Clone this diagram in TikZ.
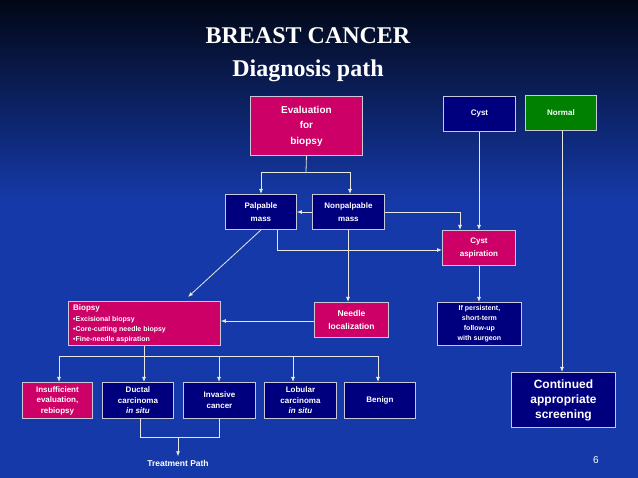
\documentclass[tikz,border=0pt]{standalone}
\usepackage{fontspec}
\setmainfont{Liberation Sans}
\newfontfamily\titlefont{Liberation Serif}
\usetikzlibrary{arrows.meta}
\definecolor{bgtop}{HTML}{020716}
\definecolor{bgbot}{HTML}{1539A8}
\definecolor{pinkc}{HTML}{CC0066}
\definecolor{navyc}{HTML}{00007F}
\definecolor{greenc}{HTML}{008000}
\definecolor{edgec}{HTML}{C8C8D8}
\definecolor{linec}{HTML}{E8E8E0}
\begin{document}
\begin{tikzpicture}[x=1pt,y=-1pt,
  box/.style={draw=edgec,line width=0.9pt,text=white,font=\bfseries\fontsize{8}{13}\selectfont,align=center,inner sep=1pt},
  pk/.style={box,fill=pinkc},
  nv/.style={box,fill=navyc},
  gr/.style={box,fill=greenc},
  ln/.style={draw=linec,line width=0.8pt},
  ar/.style={ln,-{Latex[length=5pt,width=4pt]}}]
\useasboundingbox (0,0) rectangle (638,478);
\fill[bgbot] (0,0) rectangle (638,478);
\shade[top color=bgtop,bottom color=bgbot] (0,0) rectangle (638,200);
\node[text=white,font=\titlefont\bfseries\fontsize{24}{28}\selectfont] (t1) at (308,36) {BREAST CANCER};
\node[text=white,font=\titlefont\bfseries\fontsize{24}{28}\selectfont] (t2) at (308,71) {Diagnosis path};
\node[pk,minimum width=112pt,minimum height=59pt,anchor=north west,font=\bfseries\fontsize{10}{15.5}\selectfont] (ev) at (250,96) {Evaluation\\for\\biopsy};
\node[nv,minimum width=72pt,minimum height=35pt,anchor=north west] (cy) at (443,96) {Cyst};
\node[gr,minimum width=71pt,minimum height=35pt,anchor=north west] (no) at (525,95) {Normal};
\node[nv,minimum width=71pt,minimum height=35pt,anchor=north west] (pa) at (225,194) {Palpable\\mass};
\node[nv,minimum width=72pt,minimum height=35pt,anchor=north west] (np) at (312,194) {Nonpalpable\\mass};
\node[pk,minimum width=73pt,minimum height=35pt,anchor=north west] (ca) at (442,230) {Cyst\\aspiration};
\node[pk,minimum width=152pt,minimum height=44pt,anchor=north west] (bi) at (68,301) {};
\node[text=white,anchor=north west,align=left,font=\bfseries\fontsize{7}{10.3}\selectfont,inner sep=0pt] at (73,305) {{\fontsize{8}{10}\selectfont Biopsy}\\•Excisional biopsy\\•Core-cutting needle biopsy\\•Fine-needle aspiration};
\node[pk,minimum width=74pt,minimum height=35pt,anchor=north west,font=\bfseries\fontsize{8.5}{13}\selectfont] (ne) at (314,302) {Needle\\localization};
\node[nv,minimum width=84pt,minimum height=43pt,anchor=north west,font=\bfseries\fontsize{7}{10}\selectfont] (ip) at (437,302) {If persistent,\\short-term\\follow-up\\with surgeon};
\node[pk,minimum width=70pt,minimum height=36pt,anchor=north west,font=\bfseries\fontsize{8}{10.5}\selectfont] (in) at (22,382) {Insufficient\\evaluation,\\rebiopsy};
\node[nv,minimum width=71pt,minimum height=36pt,anchor=north west,font=\bfseries\fontsize{8}{10.5}\selectfont] (du) at (102,382) {Ductal\\carcinoma\\\textit{in situ}};
\node[nv,minimum width=72pt,minimum height=36pt,anchor=north west,font=\bfseries\fontsize{8}{11}\selectfont] (iv) at (183,382) {Invasive\\cancer};
\node[nv,minimum width=72pt,minimum height=36pt,anchor=north west,font=\bfseries\fontsize{8}{10.5}\selectfont] (lo) at (264,382) {Lobular\\carcinoma\\\textit{in situ}};
\node[nv,minimum width=71pt,minimum height=36pt,anchor=north west] (be) at (344,382) {Benign};
\node[nv,minimum width=104pt,minimum height=55pt,anchor=north west,font=\bfseries\fontsize{12}{15}\selectfont] (co) at (511,372) {Continued\\appropriate\\screening};
\node[text=white,font=\bfseries\fontsize{8.5}{10}\selectfont] (tp) at (178,463) {Treatment Path};
\node[text=white,font=\fontsize{10}{12}\selectfont] (pg) at (596,460) {6};
% connectors
\draw[ln] (ev.south) -- (306,172);
\draw[ln] (261,172) -- (350,172);
\draw[ar] (261,172) -- (pa.north -| 261,0);
\draw[ar] (350,172) -- (np.north -| 350,0);
\draw[ar] (np.west |- 0,212) -- (pa.east |- 0,212);
\draw[ar] (np.east |- 0,212) -| (ca.north -| 460,0);
\draw[ar] (cy.south -| 479,0) -- (ca.north -| 479,0);
\draw[ar] (pa.south -| 277,0) |- (ca.west |- 0,250);
\draw[ar] (pa.south -| 261,0) -- (188,297);
\draw[ar] (np.south -| 348,0) -- (ne.north -| 348,0);
\draw[ar] (ne.west |- 0,321) -- (bi.east |- 0,321);
\draw[ar] (ca.south -| 479,0) -- (ip.north -| 479,0);
\draw[ar] (no.south -| 562,0) -- (co.north -| 562,0);
\draw[ln] (bi.south -| 144,0) -- (144,356);
\draw[ln] (59,356) -- (378,356);
\foreach \xx/\nn in {59/in,144/du,219/iv,293/lo,378/be}
  \draw[ar] (\xx,356) -- (\nn.north -| \xx,0);
\draw[ln] (du.south -| 140,0) |- (219,437) -- (iv.south -| 219,0);
\draw[ar] (178,437) -- (tp.north);
\end{tikzpicture}
\end{document}
